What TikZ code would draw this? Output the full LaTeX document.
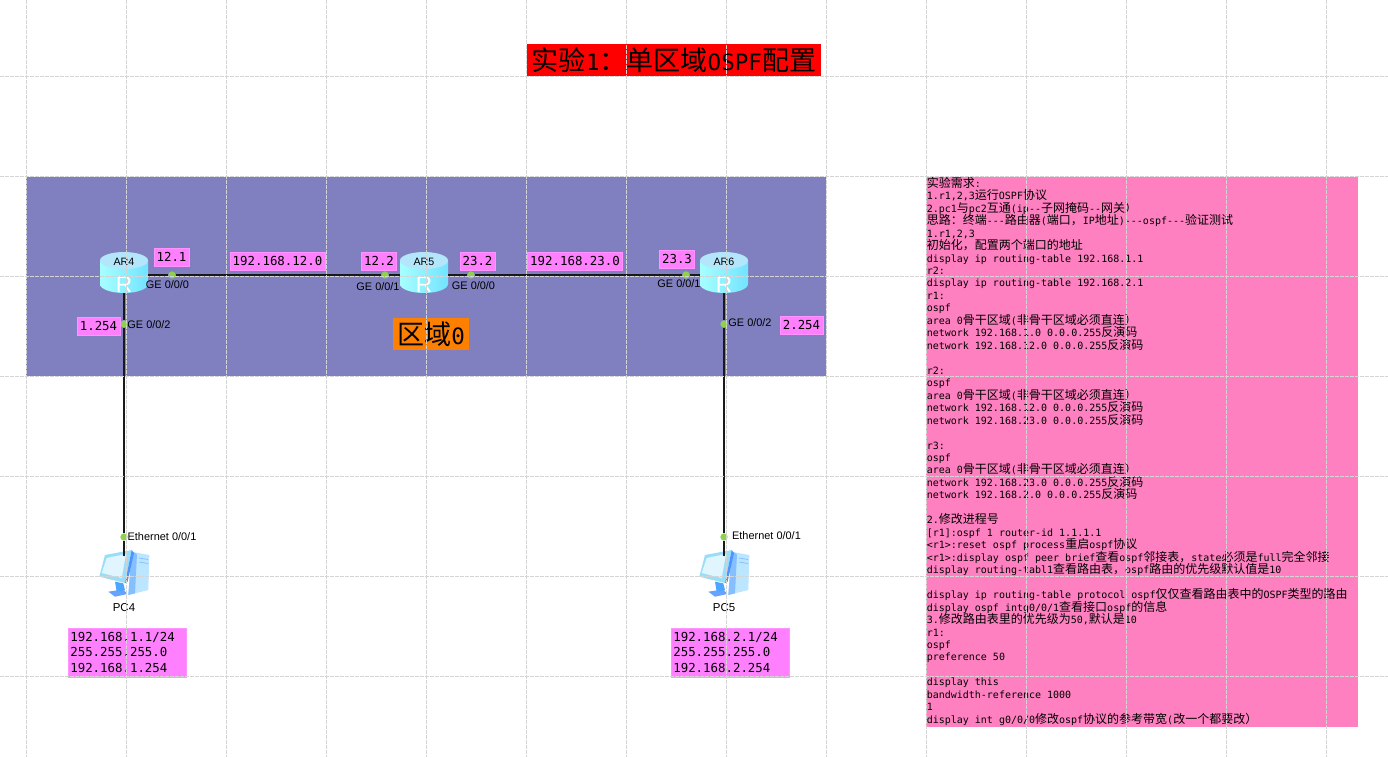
\documentclass[tikz,border=0pt]{standalone}
\usepackage{fontspec}
\setmainfont{Liberation Sans}
\setmonofont{DejaVu Sans Mono}
\newfontfamily\cjk[Scale=1.2]{Noto Sans CJK SC}
\newcommand{\zh}[1]{{\cjk #1}}
\lineskiplimit=-100pt
\definecolor{areablue}{HTML}{8080C0}
\definecolor{notepink}{HTML}{FF80C0}
\definecolor{labelpink}{HTML}{FF80FF}
\definecolor{portgreen}{HTML}{8FD14F}
\definecolor{gridgray}{HTML}{D4D4D4}
\definecolor{towerblue}{HTML}{BCE6FF}
\definecolor{towerside}{HTML}{86BFFF}
\tikzset{
  router/.pic={
    \shade[left color=cyan!35!white, right color=blue!20!cyan!55!white] (-24,-14.5) -- (-24,9) arc[start angle=180, end angle=0, x radius=24, y radius=9] -- (24,-14.5) -- cycle;
    \fill[cyan!30!white] (0,-14.5) ellipse[x radius=24, y radius=8.5];
    \node[font=\fontsize{17}{17}\selectfont, text=white] at (0,9.5) {R};
  },
  computer/.pic={
    \fill[towerblue] (7.7,-22.3) -- (25.3,-19) -- (24.3,16) -- (4.3,21) -- cycle;
    \fill[towerside] (7.7,-22.3) -- (13,-20) -- (11,19.3) -- (4.3,21) -- cycle;
    \draw[towerside, line width=.6pt] (15,-16) -- (24,-14.5) (15,-12) -- (24,-10.5);
    \fill[blue!60!cyan!60!white] (-15.7,17.7) -- (-0.7,15.3) -- (3.3,20) -- (-9,22.7) -- cycle;
    \fill[blue!50!cyan!70!white] (-9,7.7) -- (-0.7,9.3) -- (1,16) -- (-7.3,17.7) -- cycle;
    \fill[cyan!40!white] (-19,-19) -- (7.7,-24) -- (1,9) -- (-24.7,2.7) -- cycle;
    \fill[cyan!12!white] (-17.3,-16) -- (2,-20) -- (-2.3,4) -- (-22.3,-1) -- cycle;
    \fill[blue!60!cyan!70!white] (7.7,-24) -- (10,-21) -- (3.5,8) -- (1,9) -- cycle;
  }
}
\begin{document}
\begin{tikzpicture}[x=.75pt, y=-.75pt,
      every node/.append style={inner sep=0pt},
      link/.style={line width=1.5pt, draw=black!90},
      port/.style={circle, fill=portgreen, minimum size=5.5pt},
      device/.style={minimum width=36pt, minimum height=27pt},
      hostname/.style={font=\fontsize{8}{8}\selectfont},
      portname/.style={font=\fontsize{8.2}{8.2}\selectfont},
      pinkbox/.style={fill=labelpink, draw=labelpink!85!white, line width=.5pt, minimum height=13.5pt, font=\ttfamily\fontsize{9.3}{9.3}\selectfont}]
    \tikzstyle{addr} = [pinkbox, minimum width=26.25pt]
    \tikzstyle{mask} = [pinkbox, minimum width=32.25pt]
    \tikzstyle{net} = [pinkbox, minimum width=71.25pt]
    \tikzstyle{host} = [pinkbox, anchor=north west, text width=85.5pt, minimum height=36.75pt, align=left, inner xsep=1.5pt, inner ysep=0pt, font=\ttfamily\fontsize{9.3}{11.7}\selectfont]
    \useasboundingbox (0,0) rectangle (1388,757);
    \fill[white] (0,0) rectangle (1388,757);
    \fill[areablue] (26,177) rectangle (826,376);
    \fill[notepink] (926,177) rectangle (1358,727);

    \node (title) [fill=red, minimum width=220.5pt, minimum height=24pt, font=\ttfamily\fontsize{16.9}{16.9}\selectfont] at (674,60) {\zh{实验}1\zh{：单区域}OSPF\zh{配置}};
    \node (zone) [fill=orange!100!red, minimum width=57pt, minimum height=24pt, font=\ttfamily\fontsize{16.9}{16.9}\selectfont] at (431,334) {\zh{区域}0};

    % routers
    \foreach \x/\name in {124/ar4, 424/ar5, 724/ar6} {
      \pic at (\x,275) {router};
      \node (\name) [device] at (\x,275) {};
    }
    \node (ar4name) [hostname] at (124,262) {AR4};
    \node (ar5name) [hostname] at (424,262) {AR5};
    \node (ar6name) [hostname] at (724,262) {AR6};

    % hosts
    \foreach \x/\name in {124/pc4, 724/pc5} {
      \pic at (\x,574) {computer};
      \node (\name) [device] at (\x,574) {};
    }
    \node (pc4text) [hostname, font=\fontsize{8.6}{8.6}\selectfont] at (124,608) {PC4};
    \node (pc5text) [hostname, font=\fontsize{8.6}{8.6}\selectfont] at (724,608) {PC5};

    % ports
    \node (ar4e) [port] at (172,275) {};
    \node (ar5w) [port] at (385,275) {};
    \node (ar5e) [port] at (471,275) {};
    \node (ar6w) [port] at (686,275) {};
    \node (ar4s) [port] at (124,324) {};
    \node (ar6s) [port] at (724,324) {};
    \node (pc4n) [port] at (124,537) {};
    \node (pc5n) [port] at (724,537) {};

    \draw[link] (ar4) -- (ar4e);
    \draw[link] (ar4e) -- (ar5w);
    \draw[link] (ar5w) -- (ar5);
    \draw[link] (ar5) -- (ar5e);
    \draw[link] (ar5e) -- (ar6w);
    \draw[link] (ar6w) -- (ar6);
    \draw[link] (ar4) -- (ar4s);
    \draw[link] (ar4s) -- (pc4n);
    \draw[link] (pc4n) -- (pc4);
    \draw[link] (ar6) -- (ar6s);
    \draw[link] (ar6s) -- (pc5n);
    \draw[link] (pc5n) -- (pc5);

    \node (ge4e) [portname] at (167.5,285) {GE 0/0/0};
    \node (ge5w) [portname] at (378,287) {GE 0/0/1};
    \node (ge5e) [portname] at (473.5,286) {GE 0/0/0};
    \node (ge6w) [portname] at (679,284) {GE 0/0/1};
    \node (ge4s) [portname] at (149,325) {GE 0/0/2};
    \node (ge6s) [portname] at (750,323) {GE 0/0/2};
    \node (eth4) [portname] at (162,537) {Ethernet 0/0/1};
    \node (eth5) [portname] at (766.5,536) {Ethernet 0/0/1};

    \node (ip4e) [addr] at (171.5,257) {12.1};
    \node (ip5w) [addr] at (379,261) {12.2};
    \node (ip5e) [addr] at (477.5,261) {23.2};
    \node (ip6w) [addr] at (677,259) {23.3};
    \node (ip4s) [mask] at (98.5,326) {1.254};
    \node (ip6s) [mask] at (801.5,325) {2.254};
    \node (net12) [net] at (277.5,261) {192.168.12.0};
    \node (net23) [net] at (575,261) {192.168.23.0};
    \node (host4) [host] at (68,627.5) {192.168.1.1/24\\255.255.255.0\\192.168.1.254};
    \node (host5) [host] at (671,627.5) {192.168.2.1/24\\255.255.255.0\\192.168.2.254};

    \node (notes) [anchor=north west, align=left, font=\ttfamily\fontsize{7.5}{9.35}\selectfont] at (926.5,176.8) {%
      \zh{实验需求}:\\
      1.r1,2,3\zh{运行}OSPF\zh{协议}\\
      2.pc1\zh{与}pc2\zh{互通}(ip--\zh{子网掩码}--\zh{网关）}\\
      \zh{思路：终端}---\zh{路由器}(\zh{端口，}IP\zh{地址})---ospf---\zh{验证测试}\\
      1.r1,2,3\\
      \zh{初始化，配置两个端口的地址}\\
      display ip routing-table 192.168.1.1\\
      r2:\\
      display ip routing-table 192.168.2.1\\
      r1:\\
      ospf\\
      area 0\zh{骨干区域}(\zh{非骨干区域必须直连）}\\
      network 192.168.1.0 0.0.0.255\zh{反演码}\\
      network 192.168.12.0 0.0.0.255\zh{反演码}\\
      \mbox{}\\
      r2:\\
      ospf\\
      area 0\zh{骨干区域}(\zh{非骨干区域必须直连）}\\
      network 192.168.12.0 0.0.0.255\zh{反演码}\\
      network 192.168.23.0 0.0.0.255\zh{反演码}\\
      \mbox{}\\
      r3:\\
      ospf\\
      area 0\zh{骨干区域}(\zh{非骨干区域必须直连）}\\
      network 192.168.23.0 0.0.0.255\zh{反演码}\\
      network 192.168.2.0 0.0.0.255\zh{反演码}\\
      \mbox{}\\
      2.\zh{修改进程号}\\
      {[r1]}:ospf 1 router-id 1.1.1.1\\
      <r1>:reset ospf process\zh{重启}ospf\zh{协议}\\
      <r1>:display ospf peer brief\zh{查看}ospf\zh{邻接表，}state\zh{必须是}full\zh{完全邻接}\\
      display routing-tabl1\zh{查看路由表，}ospf\zh{路由的优先级默认值是}10\\
      \mbox{}\\
      display ip routing-table protocol ospf\zh{仅仅查看路由表中的}OSPF\zh{类型的路由}\\
      display ospf intg0/0/1\zh{查看接口}ospf\zh{的信息}\\
      3.\zh{修改路由表里的优先级为}50,\zh{默认是}10\\
      r1:\\
      ospf\\
      preference 50\\
      \mbox{}\\
      display this\\
      bandwidth-reference 1000\\
      1\\
      display int g0/0/0\zh{修改}ospf\zh{协议的参考带宽}(\zh{改一个都要改）}};

    % grid on top
    \foreach \x in {26,126,...,1326}
      \draw[gridgray, dash pattern=on 3pt off .75pt, line width=.6pt] (\x,0) -- (\x,757);
    \foreach \y in {76,176,...,676}
      \draw[gridgray, dash pattern=on 3pt off .75pt, line width=.6pt] (0,\y) -- (1388,\y);
\end{tikzpicture}
\end{document}
